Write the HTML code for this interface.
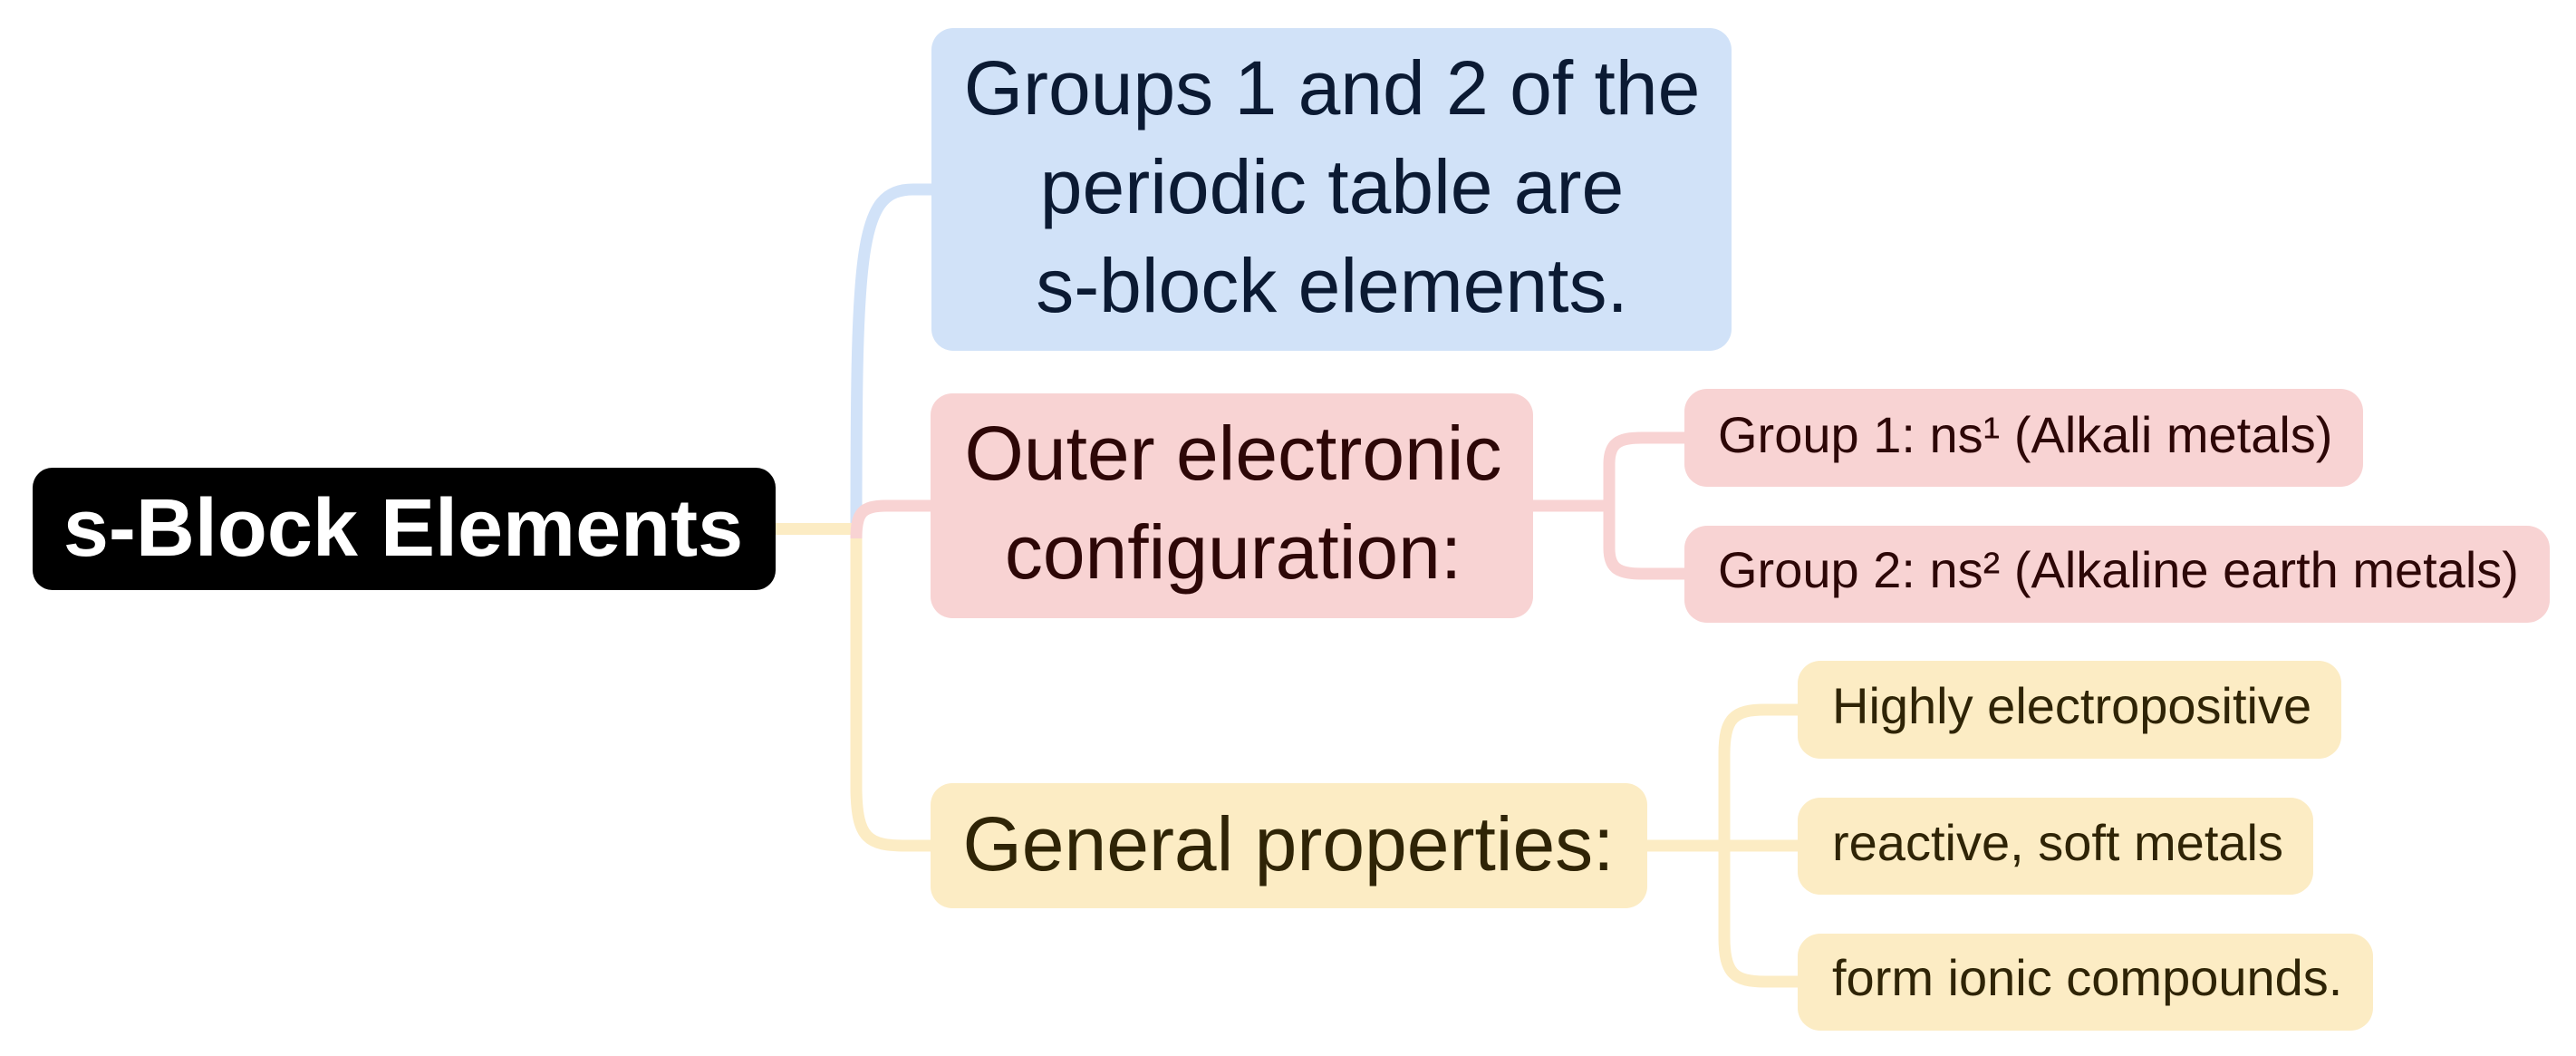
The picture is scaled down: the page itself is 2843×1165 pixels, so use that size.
<!DOCTYPE html>
<html>
<head>
<meta charset="utf-8">
<style>
  html, body { margin:0; padding:0; background:#ffffff; }
  body { width:2843px; height:1165px; overflow:hidden; }
  svg { display:block; }
  text { font-family: "Liberation Sans", Arial, sans-serif; }
</style>
</head>
<body>
<svg width="2843" height="1165" viewBox="0 0 2843 1165" xmlns="http://www.w3.org/2000/svg">
  <rect x="0" y="0" width="2843" height="1165" fill="#ffffff"/>

  <!-- connectors from root -->
  <g fill="none" stroke-width="13" stroke-linecap="butt">
    <path d="M945,588 C945,270 948,209 1008,209 L1030,209" stroke="#d1e2f8"/>
    <path d="M856,583.5 L940,583.5 Q945,583.5 945,590 L945,872 C946,925 958,933 1000,933 L1030,933" stroke="#fcecc4"/>
    <path d="M945,594 C945,566 951,558 978,558 L1030,558" stroke="#f8d3d3"/>

    <!-- red children -->
    <path d="M1690,558 L1776,558" stroke="#f8d3d3"/>
    <path d="M1776,558 L1776,512 C1776,489 1786,483 1812,483 L1860,483" stroke="#f8d3d3"/>
    <path d="M1776,558 L1776,605 C1776,627 1786,633 1812,633 L1860,633" stroke="#f8d3d3"/>

    <!-- yellow children -->
    <path d="M1816,933 L1986,933" stroke="#fcecc4"/>
    <path d="M1903,933 L1903,832 C1903,792 1914,783 1948,783 L1986,783" stroke="#fcecc4"/>
    <path d="M1903,933 L1903,1034 C1903,1074 1914,1083 1948,1083 L1986,1083" stroke="#fcecc4"/>
  </g>

  <!-- root -->
  <rect x="36" y="516" width="820" height="135" rx="22" ry="22" fill="#000000"/>
  <text x="445" y="613" font-size="90" font-weight="bold" fill="#ffffff" text-anchor="middle">s-Block Elements</text>

  <!-- blue -->
  <rect x="1028" y="31" width="883" height="356" rx="24" ry="24" fill="#d1e2f8"/>
  <g font-size="84" fill="#0b1a33" text-anchor="middle">
    <text x="1470" y="126">Groups 1 and 2 of the</text>
    <text x="1470" y="235">periodic table are</text>
    <text x="1470" y="344">s-block elements.</text>
  </g>

  <!-- red -->
  <rect x="1027" y="434" width="665" height="248" rx="24" ry="24" fill="#f8d3d3"/>
  <g font-size="84" fill="#2d0707" text-anchor="middle">
    <text x="1361" y="529">Outer electronic</text>
    <text x="1361" y="638">configuration:</text>
  </g>

  <!-- yellow main -->
  <rect x="1027" y="864" width="791" height="138" rx="24" ry="24" fill="#fcecc4"/>
  <text x="1422" y="960" font-size="84" fill="#2f2406" text-anchor="middle">General properties:</text>

  <!-- red children boxes -->
  <rect x="1859" y="429" width="749" height="108" rx="25" ry="25" fill="#f8d3d3"/>
  <text x="1896" y="499" font-size="56" fill="#2d0707">Group 1: ns¹ (Alkali metals)</text>
  <rect x="1859" y="580" width="955" height="107" rx="25" ry="25" fill="#f8d3d3"/>
  <text x="1896" y="648" font-size="56" fill="#2d0707">Group 2: ns² (Alkaline earth metals)</text>

  <!-- yellow children boxes -->
  <rect x="1984" y="729" width="600" height="108" rx="25" ry="25" fill="#fcecc4"/>
  <text x="2022" y="798" font-size="56" fill="#2f2406">Highly electropositive</text>
  <rect x="1984" y="880" width="569" height="107" rx="25" ry="25" fill="#fcecc4"/>
  <text x="2022" y="949" font-size="56" fill="#2f2406">reactive, soft metals</text>
  <rect x="1984" y="1030" width="635" height="107" rx="25" ry="25" fill="#fcecc4"/>
  <text x="2022" y="1098" font-size="56" fill="#2f2406">form ionic compounds.</text>
</svg>
</body>
</html>
